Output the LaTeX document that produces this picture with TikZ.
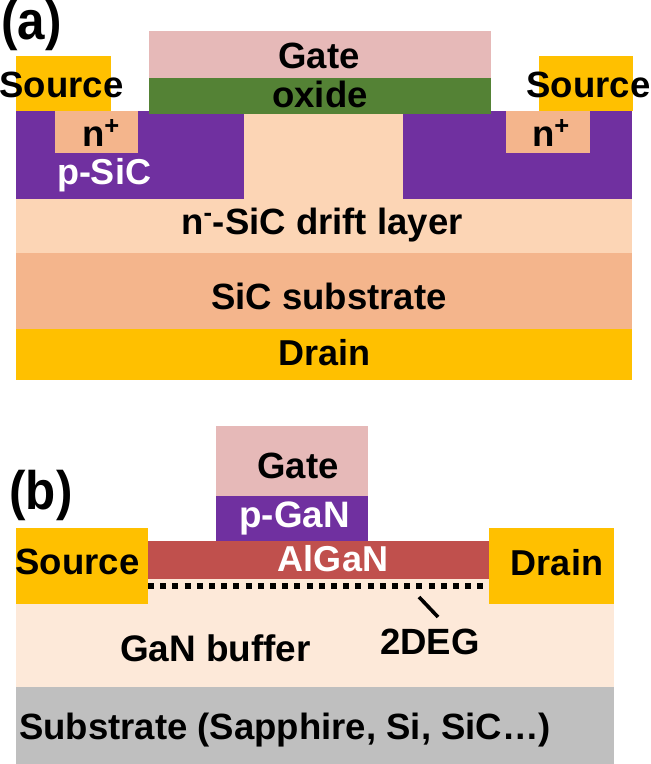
\documentclass[tikz,border=0pt]{standalone}
\usepackage{fontspec}
\setmainfont{Liberation Sans}
\definecolor{cgate}{HTML}{E6B9B8}
\definecolor{coxide}{HTML}{548235}
\definecolor{cgold}{HTML}{FFC000}
\definecolor{cpurple}{HTML}{7030A0}
\definecolor{cnplus}{HTML}{F4B58C}
\definecolor{cdrift}{HTML}{FCD5B5}
\definecolor{calgan}{HTML}{C0504D}
\definecolor{cbuffer}{HTML}{FDE9D9}
\definecolor{cgray}{HTML}{BFBFBF}
\tikzset{
  lab/.style={font=\fontsize{27.4}{30}\selectfont\bfseries,inner sep=0pt,text=black,anchor=base},
  labs/.style={lab,font=\fontsize{27}{30}\selectfont\bfseries},
  wlab/.style={labs,text=white},
  panel/.style={font=\fontsize{37}{40}\selectfont\bfseries,inner sep=0pt,text=black,anchor=base},
  px/.style={x=0.75pt,y=-0.75pt}
}
\begin{document}
\begin{tikzpicture}[px]
\useasboundingbox (0,0) rectangle (650,764);
% (a)
\fill[cdrift] (16,111) rectangle (632,253);
\fill[cnplus] (16,253) rectangle (632,329);
\fill[cgold] (16,329) rectangle (632,380);
\fill[cpurple] (16,111) rectangle (244,199);
\fill[cpurple] (403,111) rectangle (632,199);
\fill[cnplus] (55,111) rectangle (138,153);
\fill[cnplus] (506,111) rectangle (590,153);
\fill[cgold] (16,56) rectangle (111,111);
\fill[cgold] (539,56) rectangle (633,111);
\fill[cgate] (149,31) rectangle (491,78);
\fill[coxide] (149,78) rectangle (491,114);
\node[panel] (pa) at (31.5,39) {\scalebox{1}[1.1]{(a)}};
\node[lab] (sl) at (61.5,97) {Source};
\node[lab] (sr) at (588.5,97) {Source};
\node[lab] (ga) at (319,68) {Gate};
\node[lab] (ox) at (320,107) {oxide};
\node[lab] (npl) at (101,146.5) {n\textsuperscript{+}};
\node[lab] (npr) at (551,146.5) {n\textsuperscript{+}};
\node[wlab] (psic) at (104,184) {p-SiC};
\node[lab] (drift) at (322,234) {n\textsuperscript{-}-SiC drift layer};
\node[lab] (sub) at (329,309.5) {SiC substrate};
\node[labs] (dr) at (324.5,365) {Drain};
% (b)
\fill[cbuffer] (16,579) rectangle (614,687);
\fill[cgray] (16,687) rectangle (614,764);
\fill[calgan] (148,541) rectangle (490,579);
\fill[cgate] (216,426) rectangle (368,496);
\fill[cpurple] (216,496) rectangle (368,541);
\fill[cgold] (16,528) rectangle (148,604);
\fill[cgold] (489,528) rectangle (614,604);
\coordinate (da) at (148,586);
\coordinate (db) at (486,586);
\draw[line width=4.5pt,dash pattern=on 4.5pt off 4.65pt] (da) -- (db);
\coordinate (ta) at (419,597);
\coordinate (tb) at (438,617);
\draw[line width=2.7pt] (ta) -- (tb);
\node[panel] (pb) at (41,509) {\scalebox{1}[1.1]{(b)}};
\node[lab] (gb) at (298,478) {Gate};
\node[wlab] (pgan) at (294.5,527) {\fontsize{27.6}{30}\selectfont p-GaN};
\node[wlab] (algan) at (333,571.5) {AlGaN};
\node[lab] (sb) at (77.5,574) {Source};
\node[labs] (db2) at (557,575) {Drain};
\node[lab] (buf) at (215.5,661) {\fontsize{27.7}{30}\selectfont GaN buffer};
\node[lab] (deg) at (430,654) {2DEG};
\node[lab] (ss) at (285,739.5) {Substrate (Sapphire, Si, SiC…)};
\end{tikzpicture}
\end{document}
